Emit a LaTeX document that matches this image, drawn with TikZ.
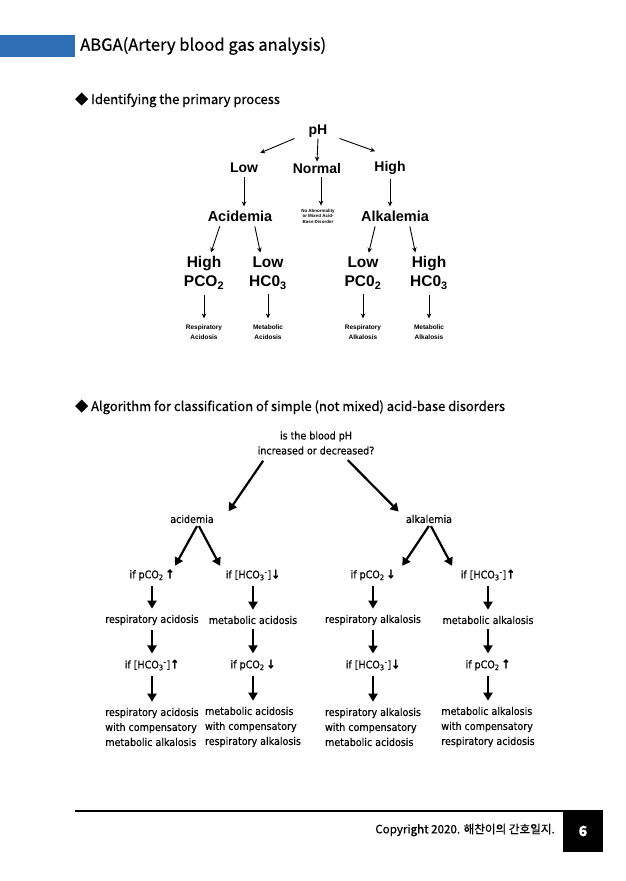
\documentclass[tikz,border=0pt]{standalone}
\usepackage{fontspec}
\setmainfont{Liberation Sans}
\newfontfamily\korfont{Noto Sans CJK KR}[RawFeature={embolden=0.6}]
\newfontfamily\algfont{DejaVu Sans Condensed}[RawFeature={embolden=0.3}]
\usetikzlibrary{arrows.meta,positioning}
\definecolor{hdrblue}{HTML}{2E6EB5}
\newcommand\upar{{\bfseries\fontsize{12}{12}\selectfont ↑}}
\newcommand\dnar{{\bfseries\fontsize{12}{12}\selectfont ↓}}

\begin{document}
\begin{tikzpicture}[x=1pt, y=-1pt, every node/.style={inner sep=1pt, align=center},
	hdr/.style={font=\korfont\fontsize{16.6}{18}\selectfont, anchor=west},
	sect/.style={font=\korfont\fontsize{13}{15}\selectfont, anchor=west},
	lvlA/.style={font=\bfseries\fontsize{14}{16}\selectfont},
	lvlB/.style={font=\bfseries\fontsize{14.5}{16}\selectfont},
	lvlC/.style={font=\bfseries\fontsize{15.5}{19}\selectfont},
	tiny/.style={font=\bfseries\fontsize{6.5}{10}\selectfont},
	micro/.style={font=\bfseries\fontsize{4.5}{5.5}\selectfont},
	alg/.style={font=\algfont\fontsize{10.6}{15}\selectfont},
	thinarr/.style={-{Stealth[length=5pt,width=4.5pt]}, line width=0.9pt},
	fatarr/.style={-{Triangle[length=8pt,width=9pt]}, line width=2.2pt}]
	\useasboundingbox (0,0) rectangle (626,881);

	% header
	\fill[hdrblue] (0,35) rectangle (75,57);
	\node[hdr] (title) at (79,46) {ABGA(Artery blood gas analysis)};
	\node[sect] (sec1) at (74,100) {◆ Identifying the primary process};
	\node[sect] (sec2) at (74,407) {◆ Algorithm for classification of simple (not mixed) acid-base disorders};

	% primary process
	\node[lvlA] (ph) at (318,131) {pH};
	\node[lvlA] (low) at (244,168) {Low};
	\node[lvlA] (norm) at (317,168) {Normal};
	\node[lvlA] (high) at (390,168) {High};
	\node[lvlB] (acid) at (240,216) {Acidemia};
	\node[micro] (none) at (318,216) {No Abnormality\\or Mixed Acid-\\Base Disorder};
	\node[lvlB] (alka) at (395,216) {Alkalemia};
	\node[lvlC] (hpco) at (204,273) {High\\PCO\textsubscript{2}};
	\node[lvlC] (lhco) at (268,273) {Low\\HC0\textsubscript{3}};
	\node[lvlC] (lpco) at (363,273) {Low\\PC0\textsubscript{2}};
	\node[lvlC] (hhco) at (429,273) {High\\HC0\textsubscript{3}};
	\node[tiny] (resac) at (204,332) {Respiratory\\Acidosis};
	\node[tiny] (metac) at (268,332) {Metabolic\\Acidosis};
	\node[tiny] (resal) at (363,332) {Respiratory\\Alkalosis};
	\node[tiny] (metal) at (429,332) {Metabolic\\Alkalosis};

	\draw[thinarr] ([xshift=-13pt]ph.south west) -- ([xshift=1pt,yshift=9pt]low.north east);
	\draw[thinarr] (ph.south) -- (norm.north);
	\draw[thinarr] ([xshift=11pt]ph.south east) -- ([xshift=2pt,yshift=9pt]high.north west);
	\draw[thinarr, shorten <=3pt, shorten >=3pt] (low.south) -- (low.south |- acid.north);
	\draw[thinarr, shorten <=3pt, shorten >=2pt] ([xshift=4pt]norm.south) -- ([xshift=4pt]norm.south |- none.north);
	\draw[thinarr, shorten <=3pt, shorten >=3pt] (high.south) -- (high.south |- alka.north);
	\draw[thinarr, shorten <=4pt, shorten >=3pt] ([xshift=-19pt]acid.south) -- ([xshift=6pt]hpco.north);
	\draw[thinarr, shorten <=4pt, shorten >=3pt] ([xshift=14pt]acid.south) -- ([xshift=-7pt]lhco.north);
	\draw[thinarr, shorten <=4pt, shorten >=3pt] ([xshift=-19pt]alka.south) -- ([xshift=5pt]lpco.north);
	\draw[thinarr, shorten <=4pt, shorten >=3pt] ([xshift=14pt]alka.south) -- ([xshift=-13pt]hhco.north);
	\foreach \a/\b in {hpco/resac, lhco/metac, lpco/resal, hhco/metal}
		\draw[thinarr, shorten <=4pt, shorten >=5pt] (\a.south) -- (\b.north);

	% classification algorithm
	\node[alg] (blood) at (316,443) {is the blood pH\\increased or decreased?};
	\node[alg] (acidem) at (192,519) {acidemia};
	\node[alg] (alkalem) at (429,519) {alkalemia};

	\node[alg] (ifa) at (152,575) {if pCO\textsubscript{2}\,\upar};
	\node[alg] (ifb) at (253,575) {if [HCO\textsubscript{3}\textsuperscript{-}]\dnar};
	\node[alg] (ifc) at (373,575) {if pCO\textsubscript{2}\,\dnar};
	\node[alg] (ifd) at (488,575) {if [HCO\textsubscript{3}\textsuperscript{-}]\upar};
	\node[alg] (dxa) at (152,620) {respiratory acidosis};
	\node[alg] (dxb) at (253,620) {metabolic acidosis};
	\node[alg] (dxc) at (373,620) {respiratory alkalosis};
	\node[alg] (dxd) at (488,620) {metabolic alkalosis};
	\node[alg] (cpa) at (152,665) {if [HCO\textsubscript{3}\textsuperscript{-}]\upar};
	\node[alg] (cpb) at (253,665) {if pCO\textsubscript{2}\,\dnar};
	\node[alg] (cpc) at (373,665) {if [HCO\textsubscript{3}\textsuperscript{-}]\dnar};
	\node[alg] (cpd) at (488,665) {if pCO\textsubscript{2}\,\upar};
	\node[alg, align=left] (fna) at (152,727) {respiratory acidosis\\with compensatory\\metabolic alkalosis};
	\node[alg, align=left] (fnb) at (253,727) {metabolic acidosis\\with compensatory\\respiratory alkalosis};
	\node[alg, align=left] (fnc) at (373,727) {respiratory alkalosis\\with compensatory\\metabolic acidosis};
	\node[alg, align=left] (fnd) at (488,727) {metabolic alkalosis\\with compensatory\\respiratory acidosis};

	\draw[fatarr, shorten <=6pt, shorten >=3pt] ([xshift=10pt]blood.south west) -- ([xshift=12pt]acidem.north east);
	\draw[fatarr, shorten <=6pt, shorten >=3pt] ([xshift=-32pt]blood.south east) -- ([xshift=-4pt]alkalem.north west);
	\draw[fatarr, shorten <=2pt, shorten >=3pt] ([xshift=6pt]acidem.south) -- ([xshift=-2pt]ifa.north east);
	\draw[fatarr, shorten <=2pt, shorten >=3pt] ([xshift=6pt]acidem.south) -- ([xshift=-3pt]ifb.north west);
	\draw[fatarr, shorten <=2pt, shorten >=3pt] ([xshift=1pt]alkalem.south) -- ([xshift=4pt]ifc.north east);
	\draw[fatarr, shorten <=2pt, shorten >=3pt] ([xshift=1pt]alkalem.south) -- ([xshift=-6pt]ifd.north west);
	\foreach \a/\b in {ifa/dxa, ifb/dxb, ifc/dxc, ifd/dxd, dxa/cpa, dxb/cpb, dxc/cpc, dxd/cpd, cpa/fna, cpb/fnb, cpc/fnc, cpd/fnd}
		\draw[fatarr, shorten <=4pt, shorten >=5pt] (\a.south) -- (\a.south |- \b.north);

	% footer
	\draw[line width=2pt] (75,811) -- (563,811);
	\fill (563,810) rectangle (603,852);
	\node[font=\korfont\fontsize{11.6}{13}\selectfont, anchor=east] (copy) at (556,830) {Copyright 2020. 해찬이의 간호일지.};
	\node[font=\korfont\bfseries\fontsize{14}{16}\selectfont, text=white] (page) at (583,831) {6};
\end{tikzpicture}
\end{document}
